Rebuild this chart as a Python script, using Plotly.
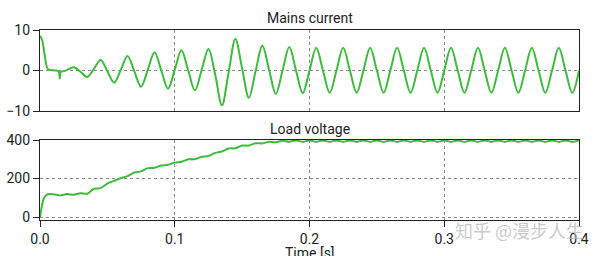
import plotly.graph_objects as go

# ---- Mains current (A) ----
t_current = [0.0, 0.0015, 0.0035, 0.0057, 0.008, 0.011, 0.0138, 0.0146, 0.0154, 0.017,
             0.020, 0.025, 0.030, 0.035, 0.040, 0.045, 0.050, 0.055, 0.060, 0.065,
             0.070, 0.075, 0.080, 0.085, 0.090, 0.095, 0.100, 0.105, 0.110, 0.115,
             0.120, 0.125, 0.130, 0.135, 0.140, 0.145, 0.150, 0.155, 0.160, 0.165,
             0.170, 0.175, 0.180, 0.185, 0.190, 0.195, 0.200, 0.205, 0.210, 0.215,
             0.220, 0.225, 0.230, 0.235, 0.240, 0.245, 0.250, 0.255, 0.260, 0.265,
             0.270, 0.275, 0.280, 0.285, 0.290, 0.295, 0.300, 0.305, 0.310, 0.315,
             0.320, 0.325, 0.330, 0.335, 0.340, 0.345, 0.350, 0.355, 0.360, 0.365,
             0.370, 0.375, 0.380, 0.385, 0.390, 0.395, 0.400]
i_current = [8.6, 7.6, 3.8, 0.4, 0.1, 0.0, -0.2, -2.0, -0.3, -0.2,
             0.1, 0.8, -0.3, -1.6, 0.4, 2.6, -0.2, -3.0, 0.2, 3.6,
             -0.2, -4.0, 0.2, 4.5, 0.0, -4.5, 0.2, 5.0, 0.0, -4.9,
             0.2, 5.3, -1.0, -8.6, -0.4, 7.8, 0.5, -6.7, -0.2, 6.2,
             0.2, -5.8, 0.0, 5.8, 0.0, -5.6, 0.0, 5.6, 0.0, -5.5,
             0.0, 5.6, 0.0, -5.5, 0.0, 5.6, 0.0, -5.5, 0.0, 5.6,
             0.0, -5.5, 0.0, 5.6, 0.0, -5.5, 0.0, 5.6, 0.0, -5.5,
             0.0, 5.6, 0.0, -5.5, 0.0, 5.6, 0.0, -5.5, 0.0, 5.6,
             0.0, -5.5, 0.0, 5.6, 0.0, -5.5, 0.0]

# ---- Load voltage (V) ----
t_voltage = [0.0, 0.0015, 0.003, 0.0057,
             0.010, 0.015, 0.020, 0.025, 0.030, 0.035, 0.040, 0.045, 0.050, 0.055,
             0.060, 0.065, 0.070, 0.075, 0.080, 0.085, 0.090, 0.095, 0.100, 0.105,
             0.110, 0.115, 0.120, 0.125, 0.130, 0.135, 0.140, 0.145, 0.150, 0.155,
             0.160, 0.165, 0.170, 0.175, 0.180, 0.185, 0.190, 0.195, 0.200, 0.205,
             0.210, 0.215, 0.220, 0.225, 0.230, 0.235, 0.240, 0.245, 0.250, 0.255,
             0.260, 0.265, 0.270, 0.275, 0.280, 0.285, 0.290, 0.295, 0.300, 0.305,
             0.310, 0.315, 0.320, 0.325, 0.330, 0.335, 0.340, 0.345, 0.350, 0.355,
             0.360, 0.365, 0.370, 0.375, 0.380, 0.385, 0.390, 0.395, 0.400]
v_load = [0, 60, 100, 118,
          118, 112, 119, 115, 123, 121, 147, 150, 174, 188,
          203, 212, 231, 237, 254, 256, 268, 271, 283, 287,
          300, 300, 313, 317, 333, 340, 356, 357, 371, 371,
          383, 382, 391, 388, 396, 391, 398, 390, 398, 390,
          398, 390, 398, 390, 398, 390, 398, 390, 398, 390,
          398, 390, 398, 390, 398, 390, 398, 390, 398, 390,
          398, 390, 398, 390, 398, 390, 398, 390, 398, 390,
          398, 390, 398, 390, 398, 390, 398, 390, 398]

x_ticks = [0.0, 0.1, 0.2, 0.3, 0.4]
x_ticktext = ["0.0", "0.1", "0.2", "0.3", "0.4"]
y1_ticks = [-10, 0, 10]
y2_ticks = [0, 200, 400]

GREEN = "#3cbb3c"
FONT = dict(family="Roboto, Noto Sans, sans-serif", size=14, color="#222222")

fig = go.Figure()
fig.add_trace(go.Scatter(x=t_current, y=i_current, mode="lines",
                         line=dict(color=GREEN, width=2, shape="spline", smoothing=1.0),
                         xaxis="x", yaxis="y", showlegend=False))
fig.add_trace(go.Scatter(x=t_voltage, y=v_load, mode="lines",
                         line=dict(color=GREEN, width=2, shape="spline", smoothing=0.8),
                         xaxis="x2", yaxis="y2", showlegend=False))

axis_common = dict(showline=True, mirror=True, linecolor="#222222", linewidth=1.2,
                   showgrid=True, gridcolor="#888888", griddash="dot", gridwidth=1,
                   zeroline=False, tickfont=FONT, ticklen=6, tickcolor="#222222")

fig.update_layout(
    width=600, height=256,
    margin=dict(l=40, r=21, t=30, b=36, autoexpand=False),
    paper_bgcolor="white", plot_bgcolor="white",
    font=FONT,
    xaxis=dict(domain=[0, 1], range=[0, 0.4], anchor="y", tickvals=x_ticks,
               showticklabels=False, ticks="", **axis_common),
    yaxis=dict(domain=[0.5737, 1], range=[-10, 10], anchor="x", tickvals=y1_ticks,
               ticks="outside", **axis_common),
    xaxis2=dict(domain=[0, 1], range=[0, 0.4], anchor="y2", tickvals=x_ticks,
                ticktext=x_ticktext, ticks="outside", **axis_common),
    yaxis2=dict(domain=[0, 0.421], range=[-15.6, 400], anchor="x2", tickvals=y2_ticks,
                ticks="outside", **axis_common),
    annotations=[
        dict(text="Mains current", x=0.5, y=1.063, xref="paper", yref="paper",
             showarrow=False, font=FONT, xanchor="center", yanchor="middle"),
        dict(text="Load voltage", x=0.5, y=0.479, xref="paper", yref="paper",
             showarrow=False, font=FONT, xanchor="center", yanchor="middle"),
        dict(text="Time [s]", x=0.5, y=-0.174, xref="paper", yref="paper",
             showarrow=False, font=FONT, xanchor="center", yanchor="middle"),
        dict(text="知乎 @漫步人生", x=0.889, y=-0.053, xref="paper", yref="paper",
             showarrow=False, xanchor="center", yanchor="middle",
             font=dict(family="Noto Sans CJK SC", size=18, color="rgba(185,185,185,0.75)")),
    ],
)

fig.write_html("out.html")
